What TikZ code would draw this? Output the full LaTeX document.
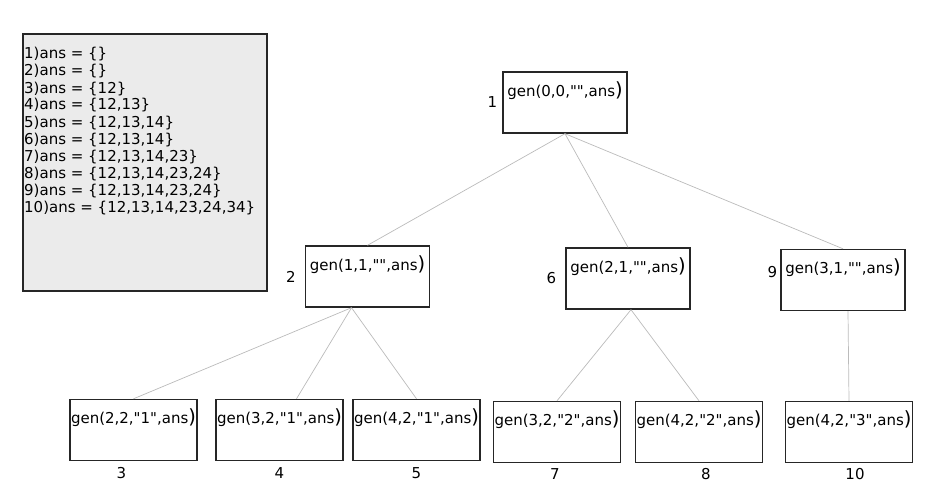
\documentclass[tikz,border=0pt]{standalone}
\usepackage{fontspec}
\setmainfont{DejaVu Sans}[Ligatures=TeXOff]
\usetikzlibrary{positioning}
\definecolor{panelgray}{HTML}{EBEBEB}
\definecolor{linegray}{HTML}{BBBBBB}
\newcommand{\bigparen}{{\fontsize{19.5}{19.5}\selectfont )}}
\tikzset{
  call/.style={draw=black!85, line width=1.4pt, rectangle, inner xsep=1pt, inner ysep=0pt,
    minimum width=124pt, text height=24pt, text depth=37pt, font=\fontsize{15}{17}\selectfont},
  num/.style={inner sep=0pt, font=\fontsize{15}{17}\selectfont},
  treeline/.style={draw=linegray, line width=0.7pt}
}
\begin{document}
\begin{tikzpicture}[x=1pt,y=-1pt]
      \useasboundingbox (0,0) rectangle (943,503);
      \node[draw=black!85, line width=2pt, fill=panelgray, anchor=north west, minimum width=244pt, minimum height=257pt, inner sep=0pt] (ansbox) at (22,33) {};
      \foreach \t [count=\i] in {{1)ans = \{\}},{2)ans = \{\}},{3)ans = \{12\}},{4)ans = \{12,13\}},{5)ans = \{12,13,14\}},{6)ans = \{12,13,14\}},{7)ans = \{12,13,14,23\}},{8)ans = \{12,13,14,23,24\}},{9)ans = \{12,13,14,23,24\}},{10)ans = \{12,13,14,23,24,34\}}}
        \node[num, anchor=base west] (ans\i) at (24,42+17*\i) {\t};
      \node[call] (root) at (565,102.5) {gen(0,0,"",ans\bigparen};
      \node[call] (n2) at (367.5,276.5) {gen(1,1,"",ans\bigparen};
      \node[call] (n6) at (628,278.5) {gen(2,1,"",ans\bigparen};
      \node[call] (n9) at (843,280) {gen(3,1,"",ans\bigparen};
      \node[call] (n3) at (133.5,430) {gen(2,2,"1",ans\bigparen};
      \node[call] (n4) at (279.5,430) {gen(3,2,"1",ans\bigparen};
      \node[call] (n5) at (416.5,430) {gen(4,2,"1",ans\bigparen};
      \node[call] (n7) at (557,432) {gen(3,2,"2",ans\bigparen};
      \node[call] (n8) at (699,432) {gen(4,2,"2",ans\bigparen};
      \node[call] (n10) at (849,432) {gen(4,2,"3",ans\bigparen};
      \node[num, left=5pt of root] (k1) {1};
      \node[num, left=9pt of n2] (k2) {2};
      \node[num, left=9pt of n6] (k6) {6};
      \node[num, left=3pt of n9, yshift=8pt] (k9) {9};
      \node[num, below=6pt of n3, xshift=-12pt] (k3) {3};
      \node[num, below=6pt of n4] (k4) {4};
      \node[num, below=6pt of n5] (k5) {5};
      \node[num, below=5pt of n7, xshift=-2pt] (k7) {7};
      \node[num, below=5pt of n8, xshift=7pt] (k8) {8};
      \node[num, below=5pt of n10, xshift=6pt] (k10) {10};
      \draw[treeline] (root.south) -- (n2.north);
      \draw[treeline] (root.south) -- (n6.north);
      \draw[treeline] (root.south) -- (n9.north);
      \draw[treeline] ([xshift=-16pt]n2.south) -- (n3.north);
      \draw[treeline] ([xshift=-16pt]n2.south) -- ([xshift=17pt]n4.north);
      \draw[treeline] ([xshift=-16pt]n2.south) -- (n5.north);
      \draw[treeline] ([xshift=3pt]n6.south) -- (n7.north);
      \draw[treeline] ([xshift=3pt]n6.south) -- (n8.north);
      \draw[treeline] ([xshift=5pt]n9.south) -- (n10.north);
     \end{tikzpicture}
\end{document}
